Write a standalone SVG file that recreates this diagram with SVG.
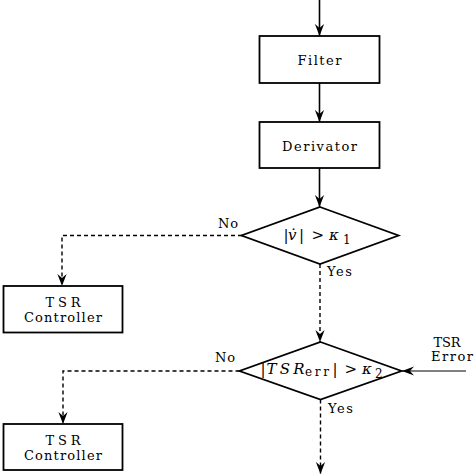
<svg xmlns="http://www.w3.org/2000/svg" width="474" height="474" viewBox="0 0 474 474">
<style>
.box{fill:#fff;stroke:#000;stroke-width:1.8}
.t{font-family:"DejaVu Serif","Liberation Serif",serif;font-size:13px;fill:#000;text-anchor:middle}
.l{font-family:"DejaVu Serif","Liberation Serif",serif;font-size:13px;fill:#000}
.m{font-family:"DejaVu Serif","Liberation Serif",serif;font-size:15px;fill:#000}
.i{font-style:italic}
.s{font-family:"DejaVu Serif","Liberation Serif",serif;font-size:12px;fill:#000}
.solid{fill:none;stroke:#000;stroke-width:1.6}
.thin{fill:none;stroke:#000;stroke-width:1}
.dash{fill:none;stroke:#000;stroke-width:1.4;stroke-dasharray:4,3}
</style>
<defs>
<marker id="ah" viewBox="-12 -5 13 10" refX="0" refY="0" markerWidth="13" markerHeight="10" markerUnits="userSpaceOnUse" orient="auto">
<path d="M0,0 L-12,-4.6 L-8,0 L-12,4.6 Z" fill="#000"/>
</marker>
</defs>
<g id="connectors">
<line class="solid" x1="319.5" y1="0" x2="319.5" y2="36" marker-end="url(#ah)"/>
<line class="solid" x1="319.5" y1="83" x2="319.5" y2="122" marker-end="url(#ah)"/>
<line class="solid" x1="319.5" y1="168" x2="319.5" y2="207" marker-end="url(#ah)"/>
<polyline class="dash" points="242,235.5 62,235.5 62,286" marker-end="url(#ah)"/>
<line class="dash" x1="320" y1="264" x2="320" y2="342" marker-end="url(#ah)"/>
<polyline class="dash" points="239.5,371 63,371 63,424" marker-end="url(#ah)"/>
<line class="dash" x1="320.5" y1="399.5" x2="320.5" y2="474" marker-end="url(#ah)"/>
<line class="thin" x1="466" y1="371" x2="402" y2="371" marker-end="url(#ah)"/>
<text class="l" x="218" y="228" textLength="20" lengthAdjust="spacing">No</text>
<text class="l" x="327" y="276" textLength="25" lengthAdjust="spacing">Yes</text>
<text class="l" x="215" y="362" textLength="20" lengthAdjust="spacing">No</text>
<text class="l" x="328" y="413" textLength="25" lengthAdjust="spacing">Yes</text>
<text class="t" x="447" y="347" textLength="27" lengthAdjust="spacing">TSR</text>
<text class="t" x="452" y="361" textLength="42" lengthAdjust="spacing">Error</text>
</g>
<g id="filter">
<rect class="box" x="259.5" y="36" width="120" height="47"/>
<text class="t" x="319.5" y="65" textLength="44" lengthAdjust="spacing">Filter</text>
</g>
<g id="derivator">
<rect class="box" x="259.5" y="122" width="120" height="46"/>
<text class="t" x="319.5" y="151" textLength="75" lengthAdjust="spacing">Derivator</text>
</g>
<g id="decision1">
<polygon class="box" points="320,207 398.5,235.5 320,264 241.5,235.5"/>
<text class="m" x="283.5" y="240">|</text>
<text class="m i" x="288" y="240">v̇</text>
<text class="m" x="299" y="240">|</text>
<text class="m" x="311.5" y="240">&gt;</text>
<text class="m i" x="329" y="240">κ</text>
<text class="s" x="343" y="244">1</text>
</g>
<g id="tsr1">
<rect class="box" x="3.5" y="286" width="119" height="46.5"/>
<text class="t" x="63" y="306.5" textLength="35" lengthAdjust="spacing">TSR</text>
<text class="t" x="63" y="321.5" textLength="78" lengthAdjust="spacing">Controller</text>
</g>
<g id="decision2">
<polygon class="box" points="320.5,342 401.5,371 320.5,399.5 239.5,371"/>
<text class="m" x="260.5" y="373.5">|</text>
<text class="m i" x="266.5" y="373.5" textLength="38" lengthAdjust="spacing">TSR</text>
<text class="s" x="305" y="375.5" textLength="24" lengthAdjust="spacing">err</text>
<text class="m" x="332.5" y="373.5">|</text>
<text class="m" x="344.5" y="373.5">&gt;</text>
<text class="m i" x="362" y="373.5">κ</text>
<text class="s" x="375" y="378">2</text>
</g>
<g id="tsr2">
<rect class="box" x="3.5" y="424" width="119" height="46"/>
<text class="t" x="63" y="444.5" textLength="35" lengthAdjust="spacing">TSR</text>
<text class="t" x="63" y="459.5" textLength="78" lengthAdjust="spacing">Controller</text>
</g>
</svg>
